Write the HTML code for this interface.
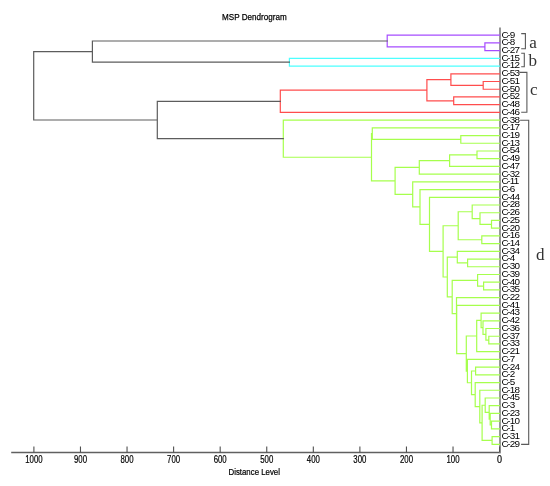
<!DOCTYPE html><html><head><meta charset="utf-8"><title>MSP Dendrogram</title><style>html,body{margin:0;padding:0;background:#fff;}svg{display:block;}.t{font-family:"Liberation Sans",Arial,sans-serif;fill:#000;stroke:#000;stroke-width:0px;}.s{font-family:"Liberation Serif","Times New Roman",serif;fill:#333;}</style></head><body>
<svg width="550" height="486" viewBox="0 0 550 486">
<rect width="550" height="486" fill="#fff"/>
<g fill="none">
<path stroke="#606060" stroke-width="1.5" d="M11.2 452.45H500.5"/>
<path stroke="#969696" stroke-width="2" d="M500 27.6V453.3"/>
<path stroke="#505050" stroke-width="1.1" d="M499.6 452.4V446.4 M453.03 452.4V446.4 M406.46 452.4V446.4 M359.89 452.4V446.4 M313.32 452.4V446.4 M266.75 452.4V446.4 M220.18 452.4V446.4 M173.61 452.4V446.4 M127.04 452.4V446.4 M80.47 452.4V446.4 M33.9 452.4V446.4"/>
</g>
<path fill="none" stroke="#a64dff" stroke-width="1.2" stroke-linecap="square" d="M499.6 42.92H484.9M499.6 50.64H484.9M484.9 42.92V50.64M499.6 35.2H387.2M484.9 46.78H387.2M387.2 35.2V46.78"/>
<path fill="none" stroke="#4dffff" stroke-width="1.2" stroke-linecap="square" d="M499.6 58.36H289.4M499.6 66.08H289.4M289.4 58.36V66.08"/>
<path fill="none" stroke="#ff4d4d" stroke-width="1.2" stroke-linecap="square" d="M499.6 81.51H483.2M499.6 89.23H483.2M483.2 81.51V89.23M499.6 73.79H450.9M483.2 85.37H450.9M450.9 73.79V85.37M499.6 96.95H453.7M499.6 104.67H453.7M453.7 96.95V104.67M450.9 79.58H426.9M453.7 100.81H426.9M426.9 79.58V100.81M426.9 90.2H280.3M499.6 112.39H280.3M280.3 90.2V112.39"/>
<path fill="none" stroke="#a6ff4d" stroke-width="1.2" stroke-linecap="square" d="M499.6 135.55H460.8M499.6 143.27H460.8M460.8 135.55V143.27M499.6 127.83H372.3M460.8 139.41H372.3M372.3 127.83V139.41M499.6 150.98H477M499.6 158.7H477M477 150.98V158.7M477 154.84H449.6M499.6 166.42H449.6M449.6 154.84V166.42M449.6 160.63H419.3M499.6 174.14H419.3M419.3 160.63V174.14M499.6 220.45H491.5M499.6 228.17H491.5M491.5 220.45V228.17M499.6 212.74H480M491.5 224.31H480M480 212.74V224.31M499.6 205.02H472.2M480 218.53H472.2M472.2 205.02V218.53M499.6 235.89H481.8M499.6 243.61H481.8M481.8 235.89V243.61M472.2 211.77H458.2M481.8 239.75H458.2M458.2 211.77V239.75M499.6 259.05H467.6M499.6 266.77H467.6M467.6 259.05V266.77M499.6 251.33H457.3M467.6 262.91H457.3M457.3 251.33V262.91M499.6 282.21H483.6M499.6 289.93H483.6M483.6 282.21V289.93M499.6 274.49H477.6M483.6 286.07H477.6M477.6 274.49V286.07M499.6 336.24H488.8M499.6 343.96H488.8M488.8 336.24V343.96M499.6 328.52H485.9M488.8 340.1H485.9M485.9 328.52V340.1M499.6 320.8H483M485.9 334.31H483M483 320.8V334.31M499.6 313.08H481.1M483 327.56H481.1M481.1 313.08V327.56M481.1 320.32H476.7M499.6 351.68H476.7M476.7 320.32V351.68M499.6 367.12H475.6M499.6 374.84H475.6M475.6 367.12V374.84M499.6 421.15H491.5M499.6 428.87H491.5M491.5 421.15V428.87M499.6 413.43H490.2M491.5 425.01H490.2M490.2 413.43V425.01M499.6 405.71H489.2M490.2 419.22H489.2M489.2 405.71V419.22M499.6 397.99H485.2M489.2 412.47H485.2M485.2 397.99V412.47M499.6 436.59H492.1M499.6 444.31H492.1M492.1 436.59V444.31M485.2 405.23H482.1M492.1 440.45H482.1M482.1 405.23V440.45M499.6 390.27H479.8M482.1 422.84H479.8M479.8 390.27V422.84M499.6 382.55H475.2M479.8 406.56H475.2M475.2 382.55V406.56M475.6 370.98H471.5M475.2 394.55H471.5M471.5 370.98V394.55M499.6 359.4H467.4M471.5 382.77H467.4M467.4 359.4V382.77M476.7 336H466.3M467.4 371.08H466.3M466.3 336V371.08M499.6 305.36H456.7M466.3 353.54H456.7M456.7 305.36V353.54M499.6 297.65H456.5M456.7 329.45H456.5M456.5 297.65V329.45M477.6 280.28H452.2M456.5 313.55H452.2M452.2 280.28V313.55M457.3 257.12H447.3M452.2 296.91H447.3M447.3 257.12V296.91M458.2 225.76H443.1M447.3 277.02H443.1M443.1 225.76V277.02M499.6 197.3H429.5M443.1 251.39H429.5M429.5 197.3V251.39M499.6 189.58H420M429.5 224.34H420M420 189.58V224.34M499.6 181.86H412.7M420 206.96H412.7M412.7 181.86V206.96M419.3 167.39H395.1M412.7 194.41H395.1M395.1 167.39V194.41M372.3 133.62H371.5M395.1 180.9H371.5M371.5 133.62V180.9M499.6 120.11H283.3M371.5 157.26H283.3M283.3 120.11V157.26"/>
<path fill="none" stroke="#5c5c5c" stroke-width="1.2" stroke-linecap="square" d="M387.2 40.99H92.4M289.4 62.22H92.4M92.4 40.99V62.22M280.3 101.29H157.3M283.3 138.68H157.3M157.3 101.29V138.68M92.4 51.6H33.7M157.3 119.99H33.7M33.7 51.6V119.99"/>
<g class="t" font-size="10.3" style="stroke-width:0.2px">
<text x="497.1" y="462.5" textLength="5" lengthAdjust="spacingAndGlyphs">0</text>
<text x="446.51" y="462.5" textLength="13.05" lengthAdjust="spacingAndGlyphs">100</text>
<text x="399.94" y="462.5" textLength="13.05" lengthAdjust="spacingAndGlyphs">200</text>
<text x="353.37" y="462.5" textLength="13.05" lengthAdjust="spacingAndGlyphs">300</text>
<text x="306.8" y="462.5" textLength="13.05" lengthAdjust="spacingAndGlyphs">400</text>
<text x="260.23" y="462.5" textLength="13.05" lengthAdjust="spacingAndGlyphs">500</text>
<text x="213.66" y="462.5" textLength="13.05" lengthAdjust="spacingAndGlyphs">600</text>
<text x="167.09" y="462.5" textLength="13.05" lengthAdjust="spacingAndGlyphs">700</text>
<text x="120.52" y="462.5" textLength="13.05" lengthAdjust="spacingAndGlyphs">800</text>
<text x="73.95" y="462.5" textLength="13.05" lengthAdjust="spacingAndGlyphs">900</text>
<text x="25.2" y="462.5" textLength="17.4" lengthAdjust="spacingAndGlyphs">1000</text>
</g>
<g class="t" font-size="9.9">
<text x="501.4" y="37.6" dx="0 -1.3 -0.8">C-9</text>
<text x="501.4" y="45.32" dx="0 -1.3 -0.8">C-8</text>
<text x="501.4" y="53.04" dx="0 -1.3 -0.8 -0.8">C-27</text>
<text x="501.4" y="60.76" dx="0 -1.3 -0.8 -0.8">C-15</text>
<text x="501.4" y="68.48" dx="0 -1.3 -0.8 -0.8">C-12</text>
<text x="501.4" y="76.19" dx="0 -1.3 -0.8 -0.8">C-53</text>
<text x="501.4" y="83.91" dx="0 -1.3 -0.8 -0.8">C-51</text>
<text x="501.4" y="91.63" dx="0 -1.3 -0.8 -0.8">C-50</text>
<text x="501.4" y="99.35" dx="0 -1.3 -0.8 -0.8">C-52</text>
<text x="501.4" y="107.07" dx="0 -1.3 -0.8 -0.8">C-48</text>
<text x="501.4" y="114.79" dx="0 -1.3 -0.8 -0.8">C-46</text>
<text x="501.4" y="122.51" dx="0 -1.3 -0.8 -0.8">C-38</text>
<text x="501.4" y="130.23" dx="0 -1.3 -0.8 -0.8">C-17</text>
<text x="501.4" y="137.95" dx="0 -1.3 -0.8 -0.8">C-19</text>
<text x="501.4" y="145.67" dx="0 -1.3 -0.8 -0.8">C-13</text>
<text x="501.4" y="153.38" dx="0 -1.3 -0.8 -0.8">C-54</text>
<text x="501.4" y="161.1" dx="0 -1.3 -0.8 -0.8">C-49</text>
<text x="501.4" y="168.82" dx="0 -1.3 -0.8 -0.8">C-47</text>
<text x="501.4" y="176.54" dx="0 -1.3 -0.8 -0.8">C-32</text>
<text x="501.4" y="184.26" dx="0 -1.3 -0.8 -0.8">C-11</text>
<text x="501.4" y="191.98" dx="0 -1.3 -0.8">C-6</text>
<text x="501.4" y="199.7" dx="0 -1.3 -0.8 -0.8">C-44</text>
<text x="501.4" y="207.42" dx="0 -1.3 -0.8 -0.8">C-28</text>
<text x="501.4" y="215.14" dx="0 -1.3 -0.8 -0.8">C-26</text>
<text x="501.4" y="222.85" dx="0 -1.3 -0.8 -0.8">C-25</text>
<text x="501.4" y="230.57" dx="0 -1.3 -0.8 -0.8">C-20</text>
<text x="501.4" y="238.29" dx="0 -1.3 -0.8 -0.8">C-16</text>
<text x="501.4" y="246.01" dx="0 -1.3 -0.8 -0.8">C-14</text>
<text x="501.4" y="253.73" dx="0 -1.3 -0.8 -0.8">C-34</text>
<text x="501.4" y="261.45" dx="0 -1.3 -0.8">C-4</text>
<text x="501.4" y="269.17" dx="0 -1.3 -0.8 -0.8">C-30</text>
<text x="501.4" y="276.89" dx="0 -1.3 -0.8 -0.8">C-39</text>
<text x="501.4" y="284.61" dx="0 -1.3 -0.8 -0.8">C-40</text>
<text x="501.4" y="292.33" dx="0 -1.3 -0.8 -0.8">C-35</text>
<text x="501.4" y="300.05" dx="0 -1.3 -0.8 -0.8">C-22</text>
<text x="501.4" y="307.76" dx="0 -1.3 -0.8 -0.8">C-41</text>
<text x="501.4" y="315.48" dx="0 -1.3 -0.8 -0.8">C-43</text>
<text x="501.4" y="323.2" dx="0 -1.3 -0.8 -0.8">C-42</text>
<text x="501.4" y="330.92" dx="0 -1.3 -0.8 -0.8">C-36</text>
<text x="501.4" y="338.64" dx="0 -1.3 -0.8 -0.8">C-37</text>
<text x="501.4" y="346.36" dx="0 -1.3 -0.8 -0.8">C-33</text>
<text x="501.4" y="354.08" dx="0 -1.3 -0.8 -0.8">C-21</text>
<text x="501.4" y="361.8" dx="0 -1.3 -0.8">C-7</text>
<text x="501.4" y="369.52" dx="0 -1.3 -0.8 -0.8">C-24</text>
<text x="501.4" y="377.24" dx="0 -1.3 -0.8">C-2</text>
<text x="501.4" y="384.95" dx="0 -1.3 -0.8">C-5</text>
<text x="501.4" y="392.67" dx="0 -1.3 -0.8 -0.8">C-18</text>
<text x="501.4" y="400.39" dx="0 -1.3 -0.8 -0.8">C-45</text>
<text x="501.4" y="408.11" dx="0 -1.3 -0.8">C-3</text>
<text x="501.4" y="415.83" dx="0 -1.3 -0.8 -0.8">C-23</text>
<text x="501.4" y="423.55" dx="0 -1.3 -0.8 -0.8">C-10</text>
<text x="501.4" y="431.27" dx="0 -1.3 -0.8">C-1</text>
<text x="501.4" y="438.99" dx="0 -1.3 -0.8 -0.8">C-31</text>
<text x="501.4" y="446.71" dx="0 -1.3 -0.8 -0.8">C-29</text>
</g>
<text class="t" x="222.1" y="20.3" font-size="9.6" style="stroke-width:0.25px" textLength="64.6" lengthAdjust="spacingAndGlyphs">MSP Dendrogram</text>
<text class="t" x="228.5" y="474.6" font-size="9.05" style="stroke-width:0.22px" textLength="51.4" lengthAdjust="spacingAndGlyphs">Distance Level</text>
<g fill="none" stroke="#5a5a5a" stroke-width="1.1">
<path d="M521.2 33.6H525.4V48.7H521.2"/>
<path d="M521.2 53.2H524.3V66.8H521.2"/>
<path d="M519.3 72.4H526.9V112.3H521.2"/>
<path d="M520.1 120.2H528.7V444.4H521.1"/>
</g>
<g class="s" font-size="17.1">
<text x="529.2" y="48.3">a</text>
<text x="528.6" y="66">b</text>
<text x="530" y="94.6">c</text>
<text x="536" y="260.2">d</text>
</g>
</svg></body></html>
